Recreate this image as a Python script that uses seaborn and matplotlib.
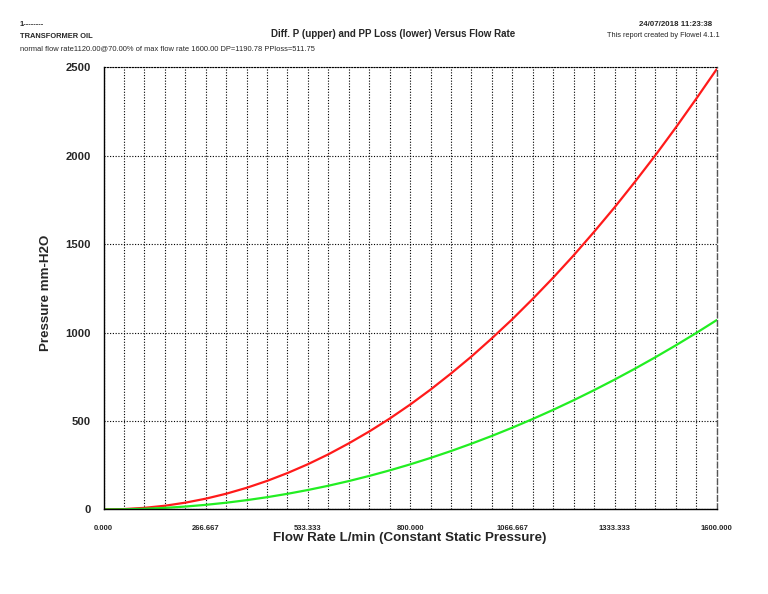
import numpy as np
import pandas as pd
import seaborn as sns
import matplotlib.pyplot as plt
from matplotlib.ticker import MultipleLocator

# values
flow = [0, 53.33, 106.67, 160, 213.33, 266.67, 320, 373.33, 426.67, 480,
        533.33, 586.67, 640, 693.33, 746.67, 800, 853.33, 906.67, 960, 1013.33,
        1066.67, 1120, 1173.33, 1226.67, 1280, 1333.33, 1386.67, 1440, 1493.33,
        1546.67, 1600]
diff_p = [0, 2.2, 9.2, 21, 38.5, 61, 89, 122.5, 161.5, 206,
          256, 312, 374, 441, 514, 593, 678, 769, 865, 968,
          1076, 1191, 1311, 1437, 1570, 1708, 1853, 2003, 2160,
          2323, 2490]
pp_loss = [0, 0.9, 3.9, 9.1, 16.5, 26.2, 38.2, 52.6, 69.4, 88.6,
           110.2, 134.2, 160.7, 189.7, 221.1, 255, 291.5, 330.4, 372, 416,
           462.6, 511.8, 563.5, 617.8, 674.7, 734.2, 796.3, 861, 928.3,
           998.2, 1071]

x_ticks = [0, 266.667, 533.333, 800, 1066.667, 1333.333, 1600]
x_tick_labels = ["0.000", "266.667", "533.333", "800.000", "1066.667", "1333.333", "1600.000"]
y_ticks = [0, 500, 1000, 1500, 2000, 2500]

df = pd.DataFrame({"flow": flow, "dp": diff_p, "pploss": pp_loss})

sns.set_style("white")
plt.rcParams['font.family'] = ['Liberation Sans', 'DejaVu Sans']

fig = plt.figure(figsize=(7.68, 5.94), dpi=100)
ax = fig.add_axes([0.1348, 0.1423, 0.7984, 0.7442])

sns.lineplot(data=df, x="flow", y="dp", color="#ff1a1a", linewidth=1.6, ax=ax)
sns.lineplot(data=df, x="flow", y="pploss", color="#22ee22", linewidth=1.6, ax=ax)

ax.set_xlim(0, 1600)
ax.set_ylim(0, 2500)

# grid: vertical every 53.333, horizontal every 500
ax.xaxis.set_minor_locator(MultipleLocator(1600 / 30))
ax.set_xticks(x_ticks)
ax.set_xticklabels(x_tick_labels, fontsize=5.5, fontweight="bold")
ax.set_yticks(y_ticks)
ax.set_yticklabels([str(v) for v in y_ticks], fontsize=8.1, fontweight="bold")
ax.grid(True, which="both", axis="x", color="black", linestyle=(0, (1, 1.5)), linewidth=0.8)
ax.grid(True, which="major", axis="y", color="black", linestyle=(0, (1, 1.5)), linewidth=0.8)
ax.tick_params(axis="x", which="major", direction="out", length=7, width=1, pad=4)
ax.tick_params(axis="x", which="minor", length=0)
ax.tick_params(axis="y", direction="in", length=7, width=1, pad=9.2)

for s in ["left", "bottom"]:
    ax.spines[s].set_color("black")
    ax.spines[s].set_linewidth(1)
ax.spines["top"].set_linestyle((0, (1, 1.5)))
ax.spines["top"].set_linewidth(0.8)
ax.spines["top"].set_color("black")
ax.spines["right"].set_linestyle((0, (4, 2)))
ax.spines["right"].set_color("#555555")
ax.spines["right"].set_linewidth(1)

ax.set_xlabel("Flow Rate L/min (Constant Static Pressure)", fontsize=9.6, fontweight="bold", va="center")
ax.xaxis.set_label_coords(0.5, -0.0645)
ax.set_ylabel("Pressure mm-H2O", fontsize=9.6, fontweight="bold", va="center")
ax.yaxis.set_label_coords(-0.094, 0.49)

# report header
H = 594
fig.text(20 / 768, 1 - 26.5 / H, "1--------", fontsize=5.4, fontweight="bold", va="baseline")
fig.text(20 / 768, 1 - 37.7 / H, "TRANSFORMER OIL", fontsize=5.4, fontweight="bold", va="baseline")
fig.text(20 / 768, 1 - 50 / H,
         "normal flow rate1120.00@70.00% of max flow rate 1600.00 DP=1190.78 PPloss=511.75",
         fontsize=5.4, va="baseline")
fig.text(393 / 768, 1 - 37 / H, "Diff. P (upper) and PP Loss (lower) Versus Flow Rate",
         fontsize=7.0, fontweight="bold", ha="center", va="baseline")
fig.text(676 / 768, 1 - 26 / H, "24/07/2018 11:23:38", fontsize=5.7, fontweight="bold",
         ha="center", va="baseline")
fig.text(663 / 768, 1 - 36.7 / H, "This report created by Flowel 4.1.1", fontsize=5.3,
         ha="center", va="baseline")

plt.savefig("out.png", dpi=100)
